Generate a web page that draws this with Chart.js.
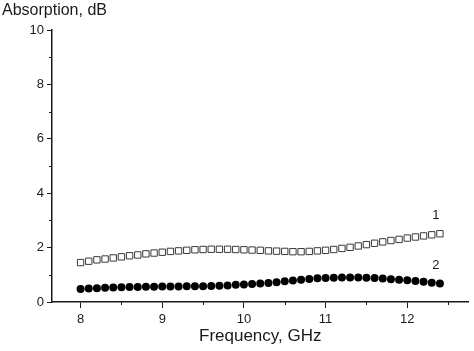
<!DOCTYPE html>
<html>
<head>
<meta charset="utf-8">
<script src="https://cdn.jsdelivr.net/npm/chart.js@4.4.1/dist/chart.umd.min.js"></script>
<style>
  html, body { margin: 0; padding: 0; background: #fff; }
  canvas { display: block; }
</style>
</head>
<body>
<canvas id="chart" width="474" height="351"></canvas>
<script>
// frequency, GHz
const FREQ = [
  8.0, 8.1, 8.2, 8.3, 8.4, 8.5, 8.6, 8.7, 8.8, 8.9,
  9.0, 9.1, 9.2, 9.3, 9.4, 9.5, 9.6, 9.7, 9.8, 9.9,
  10.0, 10.1, 10.2, 10.3, 10.4, 10.5, 10.6, 10.7, 10.8, 10.9,
  11.0, 11.1, 11.2, 11.3, 11.4, 11.5, 11.6, 11.7, 11.8, 11.9,
  12.0, 12.1, 12.2, 12.3, 12.4,
];
// curve 1 (open squares), dB
const ABS_1 = [
  1.45, 1.50, 1.55, 1.58, 1.62, 1.66, 1.70, 1.73, 1.77, 1.80,
  1.83, 1.86, 1.88, 1.90, 1.92, 1.93, 1.94, 1.94, 1.94, 1.93,
  1.92, 1.91, 1.90, 1.88, 1.87, 1.86, 1.85, 1.85, 1.86, 1.88,
  1.90, 1.93, 1.97, 2.01, 2.06, 2.11, 2.16, 2.21, 2.26, 2.30,
  2.35, 2.39, 2.43, 2.47, 2.51,
];
// curve 2 (filled circles), dB
const ABS_2 = [
  0.48, 0.50, 0.51, 0.52, 0.53, 0.54, 0.55, 0.55, 0.56, 0.56,
  0.57, 0.57, 0.57, 0.58, 0.58, 0.58, 0.59, 0.60, 0.61, 0.63,
  0.64, 0.66, 0.68, 0.70, 0.73, 0.76, 0.79, 0.82, 0.85, 0.87,
  0.88, 0.89, 0.90, 0.90, 0.90, 0.89, 0.88, 0.86, 0.84, 0.82,
  0.80, 0.77, 0.74, 0.71, 0.68,
];
const X_TICKS = [8, 8.5, 9, 9.5, 10, 10.5, 11, 11.5, 12, 12.5];
const Y_TICKS = [0, 1, 2, 3, 4, 5, 6, 7, 8, 9, 10];
// curve labels: [text, x, y] in data units
const CURVE_LABELS = [["1", 12.35, 3.2], ["2", 12.35, 1.35]];

const FONT = "'Liberation Sans', Arial, sans-serif";
const INK = "#1a1a1a";

Chart.defaults.font.family = FONT;
Chart.defaults.color = INK;

const extras = {
  id: "extras",
  afterDraw(chart) {
    const { ctx, scales: { x, y } } = chart;
    ctx.save();
    ctx.strokeStyle = INK;
    ctx.lineWidth = 1;
    // short minor ticks
    Y_TICKS.filter((v) => v % 2 === 1).forEach((v) => {
      const py = Math.round(y.getPixelForValue(v)) + 0.5;
      ctx.beginPath();
      ctx.moveTo(x.left - 3, py);
      ctx.lineTo(x.left, py);
      ctx.stroke();
    });
    X_TICKS.filter((v) => !Number.isInteger(v)).forEach((v) => {
      const px = Math.round(x.getPixelForValue(v)) + 0.5;
      ctx.beginPath();
      ctx.moveTo(px, y.bottom);
      ctx.lineTo(px, y.bottom + 3);
      ctx.stroke();
    });
    ctx.fillStyle = INK;
    ctx.font = "16px " + FONT;
    ctx.textAlign = "left";
    ctx.textBaseline = "middle";
    ctx.fillText("Absorption, dB", 2, 11);
    ctx.font = "13px " + FONT;
    ctx.textAlign = "center";
    CURVE_LABELS.forEach(([t, vx, vy]) => {
      ctx.fillText(t, x.getPixelForValue(vx), y.getPixelForValue(vy));
    });
    ctx.restore();
  },
};

new Chart(document.getElementById("chart"), {
  type: "scatter",
  data: {
    datasets: [
      {
        data: FREQ.map((f, i) => ({ x: f, y: ABS_1[i] })),
        pointStyle: "rect",
        pointRadius: 4.5,
        pointBorderWidth: 1,
        pointBorderColor: "#3a3a3a",
        pointBackgroundColor: "#fff",
      },
      {
        data: FREQ.map((f, i) => ({ x: f, y: ABS_2[i] })),
        pointStyle: "circle",
        pointRadius: 4,
        pointBorderWidth: 0,
        pointBackgroundColor: "#000",
      },
    ],
  },
  options: {
    responsive: false,
    animation: false,
    layout: { padding: { top: 30, right: -6, left: 0, bottom: 0 } },
    plugins: { legend: { display: false }, tooltip: { enabled: false } },
    scales: {
      x: {
        type: "linear",
        min: 7.65,
        max: 12.75,
        afterBuildTicks: (s) => { s.ticks = X_TICKS.map((v) => ({ value: v })); },
        afterFit: (s) => { s.height = 49; },
        border: { display: true, color: INK, width: 1.5 },
        grid: {
          drawOnChartArea: false,
          tickLength: 6,
          tickColor: (c) => (Number.isInteger(c.tick.value) ? INK : "rgba(0,0,0,0)"),
        },
        ticks: {
          autoSkip: false,
          maxRotation: 0,
          padding: 4,
          font: { size: 13 },
          callback: (v) => (Number.isInteger(v) ? String(v) : ""),
        },
        title: {
          display: true,
          text: "Frequency, GHz",
          font: { size: 17 },
          padding: { top: 0, bottom: 4 },
        },
      },
      y: {
        min: 0,
        max: 10,
        afterBuildTicks: (s) => { s.ticks = Y_TICKS.map((v) => ({ value: v })); },
        afterFit: (s) => { s.width = 52; },
        border: { display: true, color: INK, width: 1.5 },
        grid: {
          drawOnChartArea: false,
          tickLength: 5,
          tickColor: (c) => (c.tick.value % 2 === 0 ? INK : "rgba(0,0,0,0)"),
        },
        ticks: {
          autoSkip: false,
          padding: 3,
          font: { size: 13 },
          callback: (v) => (v % 2 === 0 ? String(v) : ""),
        },
      },
    },
  },
  plugins: [extras],
});
</script>
</body>
</html>
